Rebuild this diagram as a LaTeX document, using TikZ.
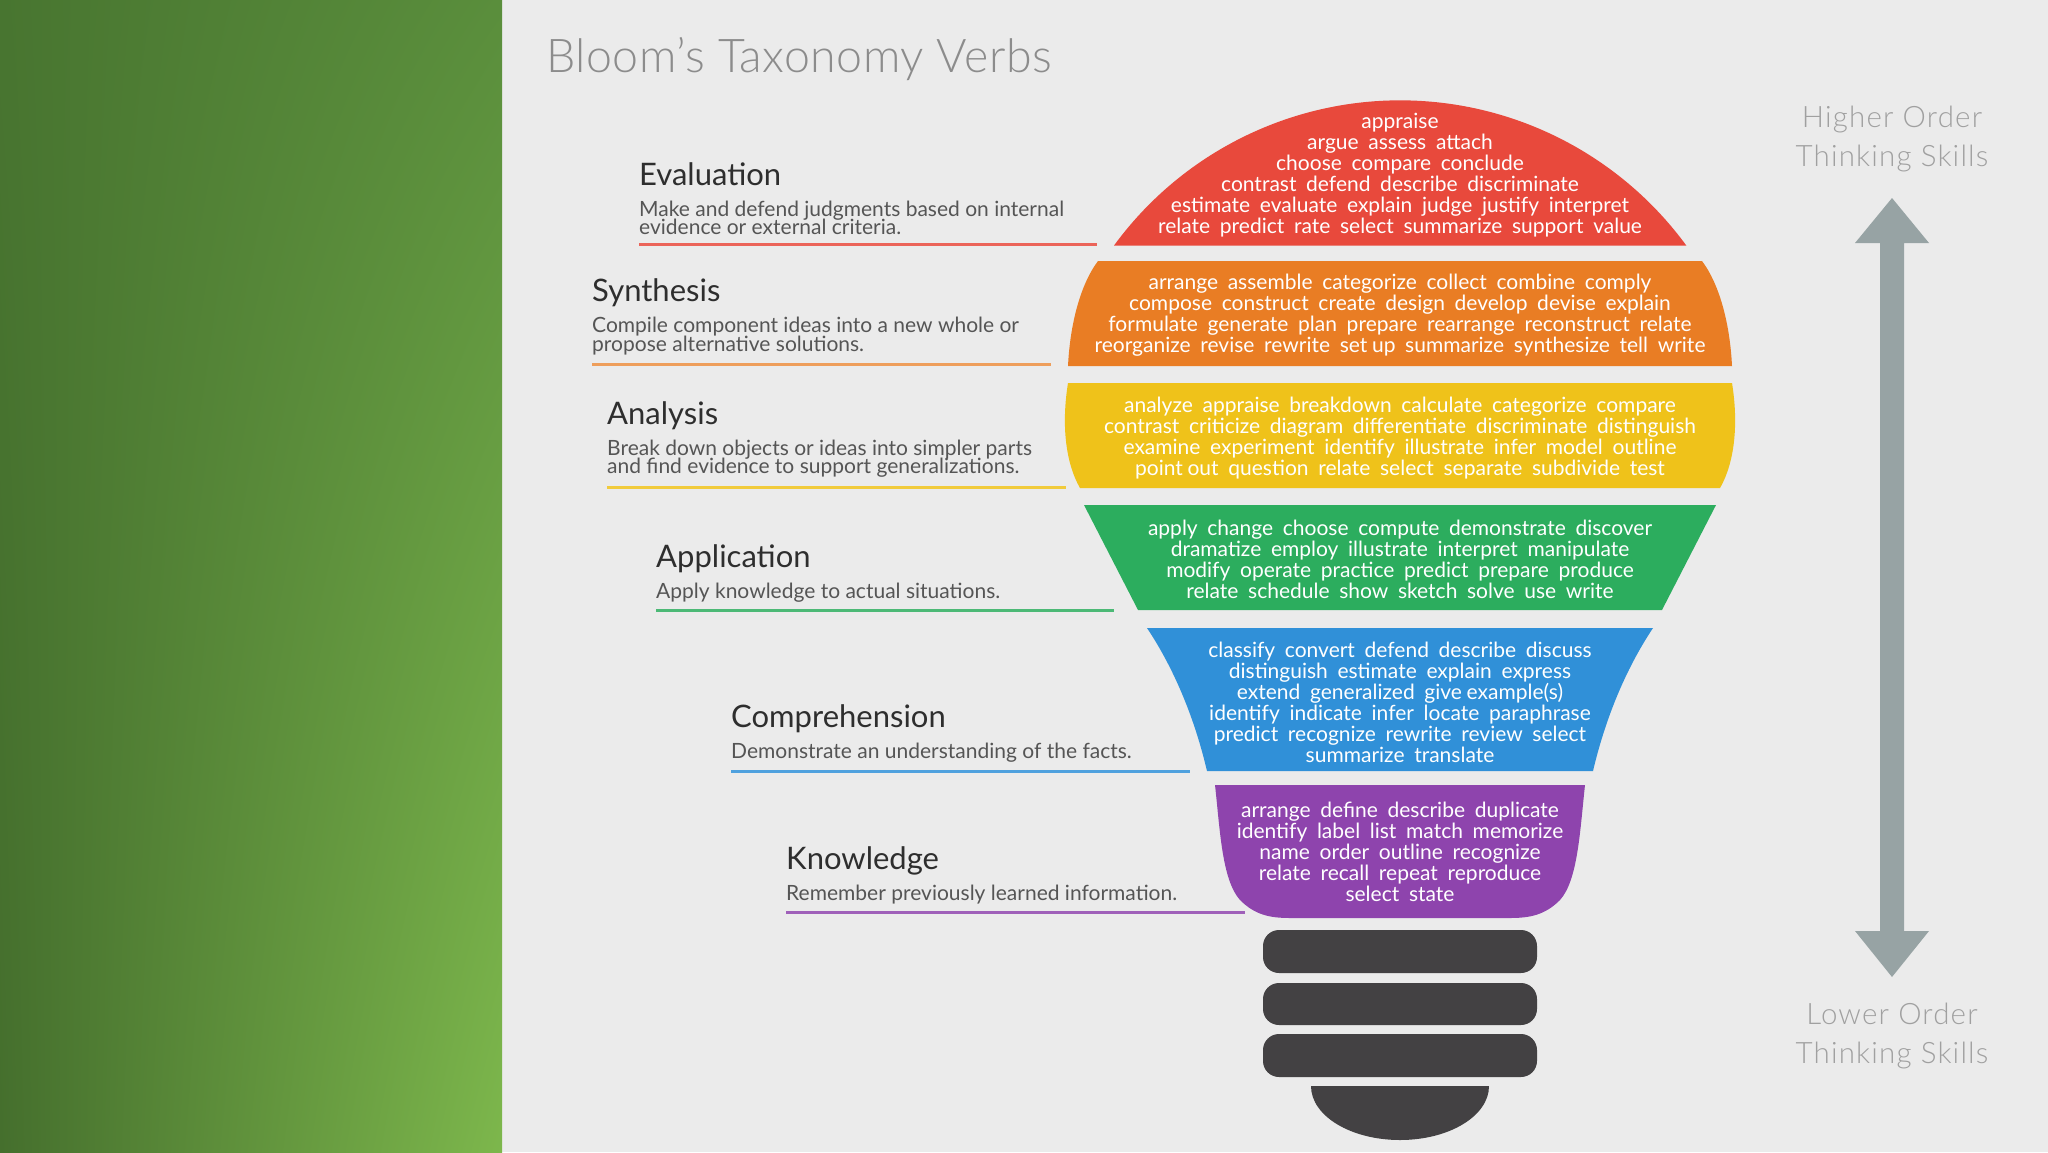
\documentclass[tikz,border=0pt]{standalone}
\usepackage{fontspec}
\usetikzlibrary{shadings}
\setmainfont{Lato}
\newfontfamily\verbfont{Lato}[WordSpace=1.8]
\newfontfamily\lightfont{Lato Light}[LetterSpace=1]
\newfontfamily\sidefont{Lato Light}[LetterSpace=4]
\definecolor{bg}{HTML}{EBEBEB}
\definecolor{cRed}{HTML}{E8493C}
\definecolor{cOrange}{HTML}{E97D24}
\definecolor{cYellow}{HTML}{EFC21A}
\definecolor{cGreen}{HTML}{2CAD5E}
\definecolor{cBlue}{HTML}{3090D8}
\definecolor{cPurple}{HTML}{8E44AD}
\definecolor{cBase}{HTML}{434143}
\definecolor{cArrow}{HTML}{97A3A4}
\definecolor{cTitle}{HTML}{8C8C8C}
\definecolor{cHead}{HTML}{2E2E2E}
\definecolor{cDesc}{HTML}{555555}
\definecolor{cSide}{HTML}{A0A0A0}
\definecolor{gTL}{HTML}{487530}
\definecolor{gTR}{HTML}{5A8E3C}
\definecolor{gBL}{HTML}{456F2D}
\definecolor{gBR}{HTML}{7DB74C}
\tikzset{
  verbs/.style={align=center, inner sep=0pt, text=white,
    font=\verbfont\fontsize{21}{21}\selectfont},
  heading/.style={anchor=base west, inner sep=0pt, text=cHead,
    font=\fontsize{31}{33}\selectfont},
  desc/.style={anchor=base west, inner sep=0pt, text=cDesc,
    font=\fontsize{21}{21}\selectfont},
  uline/.style={line width=3pt},
  side/.style={anchor=base, inner sep=0pt, text=cSide,
    font=\sidefont\fontsize{29.5}{31}\selectfont},
  basebar/.style={fill=cBase, rounded corners=16pt}
}
\begin{document}
\begin{tikzpicture}[x=1pt,y=-1pt]
\useasboundingbox (0,0) rectangle (2048,1152);
\fill[bg] (0,0) rectangle (2048,1152);
\shade[upper left=gTL, upper right=gTR, lower left=gBL, lower right=gBR] (0,0) rectangle (502,1152);

% title
\node[anchor=base west, inner sep=0pt, text=cTitle, font=\lightfont\fontsize{46.5}{48}\selectfont] (title) at (546,72) {Bloom’s Taxonomy Verbs};

% bulb bands
\fill[cRed] (1114,245.5) arc[start angle=-143.8, end angle=-36.2, radius=354.6] -- cycle;
\fill[cOrange] (1098,261) -- (1702,261) .. controls (1720,285) and (1730,325) .. (1732,366) -- (1068,366) .. controls (1070,325) and (1080,285) .. (1098,261) -- cycle;
\fill[cYellow] (1068,383) -- (1732,383) .. controls (1738,420) and (1736,460) .. (1720,488) -- (1080,488) .. controls (1064,460) and (1062,420) .. (1068,383) -- cycle;
\fill[cGreen] (1084,505) -- (1716,505) -- (1662,610) -- (1138,610) -- cycle;
\fill[cBlue] (1147,628) -- (1653,628) .. controls (1625,670) and (1605,720) .. (1593,771) -- (1207,771) .. controls (1195,720) and (1175,670) .. (1147,628) -- cycle;
\fill[cPurple] (1215,785) -- (1585,785) .. controls (1580,830) and (1578,880) .. (1560,900) .. controls (1545,915) and (1530,918) .. (1510,918) -- (1290,918) .. controls (1270,918) and (1255,915) .. (1240,900) .. controls (1222,880) and (1220,830) .. (1215,785) -- cycle;

% base
\fill[basebar] (1263,930) rectangle (1537,973);
\fill[basebar] (1263,983) rectangle (1537,1025);
\fill[basebar] (1263,1034) rectangle (1537,1077);
\fill[cBase] (1311,1086) .. controls (1311,1116) and (1351,1140) .. (1400,1140) .. controls (1449,1140) and (1489,1116) .. (1489,1086) -- cycle;

% verbs
\node[verbs] (vRed) at (1400,175) {appraise\\argue assess attach\\choose compare conclude\\contrast defend describe discriminate\\estimate evaluate explain judge justify interpret\\relate predict rate select summarize support value};
\node[verbs] (vOrange) at (1400,315) {arrange assemble categorize collect combine comply\\compose construct create design develop devise explain\\formulate generate plan prepare rearrange reconstruct relate\\reorganize revise rewrite set\hspace{0.22em}up summarize synthesize tell write};
\node[verbs] (vYellow) at (1400,438.5) {analyze appraise breakdown calculate categorize compare\\contrast criticize diagram differentiate discriminate distinguish\\examine experiment identify illustrate infer model outline\\point\hspace{0.22em}out question relate select separate subdivide test};
\node[verbs] (vGreen) at (1400,559) {apply change choose compute demonstrate discover\\dramatize employ illustrate interpret manipulate\\modify operate practice predict prepare produce\\relate schedule show sketch solve use write};
\node[verbs] (vBlue) at (1400,702) {classify convert defend describe discuss\\distinguish estimate explain express\\extend generalized give\hspace{0.22em}example(s)\\identify indicate infer locate paraphrase\\predict recognize rewrite review select\\summarize translate};
\node[verbs] (vPurple) at (1400,852) {arrange define describe duplicate\\identify label list match memorize\\name order outline recognize\\relate recall repeat reproduce\\select state};

% left labels
\node[heading] (hEval) at (639,185) {Evaluation};
\node[desc] (dEval1) at (639,216) {Make and defend judgments based on internal};
\node[desc] (dEval2) at (639,234.5) {evidence or external criteria.};
\coordinate (uEvalA) at (639,244); \coordinate (uEvalB) at (1097,244);
\draw[uline, cRed!85] (uEvalA) -- (uEvalB);

\node[heading] (hSyn) at (592,301) {Synthesis};
\node[desc] (dSyn1) at (592,332.5) {Compile component ideas into a new whole or};
\node[desc] (dSyn2) at (592,351) {propose alternative solutions.};
\coordinate (uSynA) at (592,364); \coordinate (uSynB) at (1051,364);
\draw[uline, cOrange!75] (uSynA) -- (uSynB);

\node[heading] (hAna) at (607,424) {Analysis};
\node[desc] (dAna1) at (607,455) {Break down objects or ideas into simpler parts};
\node[desc] (dAna2) at (607,473.5) {and find evidence to support generalizations.};
\coordinate (uAnaA) at (607,487); \coordinate (uAnaB) at (1066,487);
\draw[uline, cYellow!85] (uAnaA) -- (uAnaB);

\node[heading] (hApp) at (656,567) {Application};
\node[desc] (dApp) at (656,598) {Apply knowledge to actual situations.};
\coordinate (uAppA) at (656,610); \coordinate (uAppB) at (1114,610);
\draw[uline, cGreen!85] (uAppA) -- (uAppB);

\node[heading] (hCom) at (731,727) {Comprehension};
\node[desc] (dCom) at (731,758) {Demonstrate an understanding of the facts.};
\coordinate (uComA) at (731,771); \coordinate (uComB) at (1190,771);
\draw[uline, cBlue!85] (uComA) -- (uComB);

\node[heading] (hKno) at (786,869) {Knowledge};
\node[desc] (dKno) at (786,900) {Remember previously learned information.};
\coordinate (uKnoA) at (786,912); \coordinate (uKnoB) at (1245,912);
\draw[uline, cPurple!85] (uKnoA) -- (uKnoB);

% side arrow and labels
\node[side] (hi1) at (1892,127) {Higher Order};
\node[side] (hi2) at (1892,166) {Thinking Skills};
\node[side] (lo1) at (1892,1024) {Lower Order};
\node[side] (lo2) at (1892,1063) {Thinking Skills};
\coordinate (aTop) at (1892,198);
\coordinate (aBot) at (1892,977);
\fill[cArrow] (aTop) -- ++(37,45) -- ++(-25,0) -- ++(0,688) -- ++(25,0) -- (aBot) -- ++(-37,-46) -- ++(25,0) -- ++(0,-688) -- ++(-25,0) -- cycle;
\end{tikzpicture}
\end{document}
